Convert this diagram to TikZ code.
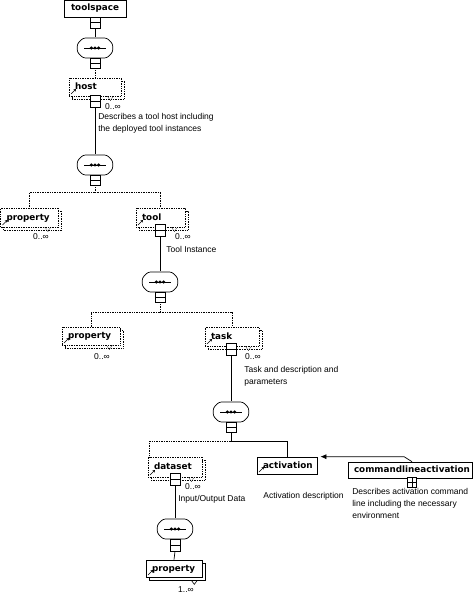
\documentclass[tikz,border=0pt]{standalone}
\usepackage{fontspec}
\setmainfont{Liberation Sans}
\newfontfamily\namefont{DejaVu Sans}
\usetikzlibrary{shadows,arrows.meta,calc}
\begin{document}
\begin{tikzpicture}[x=1pt,y=-1pt, line width=0.7pt,
  elem/.style={draw, fill=white, rectangle, inner xsep=6pt, inner ysep=0pt, align=left,
     font=\namefont\bfseries\fontsize{8.8}{10}\selectfont, text height=7pt, text depth=2pt},
  opt/.style={elem, densely dotted},
  refarrow/.style={path picture={\draw[solid, line width=0.6pt, -{Stealth[length=2.5pt,width=2.8pt]}] ([shift={(2,-2)}]path picture bounding box.south west) -- ++(5,-5);}},
  multi/.style={copy shadow={shadow xshift=3pt, shadow yshift=-3pt}},
  minusbox/.style={draw, fill=white, solid, rectangle, inner sep=0pt, minimum width=10pt, minimum height=11pt,
     path picture={\draw (path picture bounding box.west) -- (path picture bounding box.east);}},
  plusbox/.style={draw, fill=white, solid, rectangle, inner sep=0pt, minimum width=9pt, minimum height=10pt,
     path picture={\draw (path picture bounding box.west) -- (path picture bounding box.east);
                   \draw (path picture bounding box.north) -- (path picture bounding box.south);}},
  seqbox/.style={rectangle, inner sep=0pt, minimum width=37pt, minimum height=21pt,
     path picture={\begin{scope}[shift={(path picture bounding box.center)}]
        \draw[rounded corners=2.5pt, fill=white, line width=0.7pt] (-17.8,-4) -- (-12,-10) -- (12,-10) -- (17.8,-4) -- (17.8,4) -- (12,10) -- (-12,10) -- (-17.8,4) -- cycle;
        \draw[line width=0.6pt] (-11,0) -- (11,0);
        \fill (-3.6,0) circle (1.7pt) (0,0) circle (1.7pt) (3.6,0) circle (1.7pt);
     \end{scope}}},
  lbl/.style={inner sep=0pt, font=\fontsize{8.5}{10}\selectfont},
  desc/.style={inner sep=0pt, anchor=north west, align=left, font=\fontsize{8.5}{12}\selectfont},
  conn/.style={line width=0.7pt},
  dconn/.style={line width=0.7pt, densely dotted},
  notch/.style={line width=0.6pt, densely dotted}
]
\useasboundingbox (0,0) rectangle (474,594);

% ---- toolspace
\node[elem, text width=50pt, align=center, minimum height=17pt] (toolspace) at (95,8.5) {toolspace};
\node[minusbox] (m0) at (95,22.5) {};
\node[seqbox] (c1) at (95,48) {};
\node[minusbox, minimum height=10pt] (c1m) at (95,63) {};

% ---- host
\node[opt, refarrow, multi, text width=40pt, minimum height=18pt] (host) at (95,87) {host};
\node[minusbox, minimum height=12pt] (hm) at (95,101) {};
\node[lbl] (hostc) at (113,107) {0..∞};
\node[desc] (hostd) at (98,113) {Describes a tool host including\\the deployed tool instances};
\node[seqbox] (c2) at (95,165) {};
\node[minusbox, minimum height=10pt] (c2m) at (95,180) {};
\coordinate (j2) at (95,192);

% ---- property / tool
\node[opt, refarrow, multi, text width=46pt, minimum height=19pt] (prop1) at (29.5,217.5) {property};
\node[lbl] (prop1c) at (41,237) {0..∞};
\node[opt, refarrow, multi, text width=37pt, minimum height=19pt] (tool) at (160.5,217.5) {tool};
\node[minusbox, minimum height=12pt] (toolmb) at (160,230) {};
\node[lbl] (toolc) at (183,237) {0..∞};
\node[desc] (toold) at (166,245.5) {Tool Instance};
\node[seqbox] (c3) at (160,282) {};
\node[minusbox, minimum height=10pt] (c3m) at (160,297) {};
\coordinate (j3) at (160,312);

% ---- property / task
\node[opt, refarrow, multi, text width=46pt, minimum height=18pt] (prop2) at (91,336) {property};
\node[lbl] (prop2c) at (102,357) {0..∞};
\node[opt, refarrow, multi, text width=42pt, minimum height=19pt] (task) at (232,336.5) {task};
\node[minusbox, minimum height=12pt] (taskmb) at (231,349) {};
\node[lbl] (taskc) at (253,357) {0..∞};
\node[desc] (taskd) at (244,366) {Task and description and\\parameters};
\node[seqbox] (c4) at (231,412) {};
\node[minusbox, minimum height=10pt] (c4m) at (231,427) {};
\coordinate (j4) at (231,441);

% ---- dataset / activation
\node[opt, refarrow, multi, text width=42pt, minimum height=20pt] (dataset) at (175,467) {dataset};
\node[minusbox, minimum height=12pt] (datamb) at (175,479) {};
\node[lbl] (datac) at (193,487) {0..∞};
\node[desc] (datad) at (178,494.5) {Input/Output Data};
\node[elem, refarrow, text width=48pt, minimum height=17pt] (activation) at (287,465.5) {activation};
\node[desc] (actd) at (263,491.5) {Activation description};
\node[elem, text width=112pt, align=center, minimum height=16pt] (cla) at (410,470) {commandlineactivation};
\node[plusbox] (clap) at (412,482) {};
\node[desc] (clad) at (352,487.5) {Describes activation command\\line including the necessary\\environment};

% ---- bottom
\node[seqbox] (c5) at (175,529) {};
\node[minusbox, minimum height=12pt] (c5m) at (175,545) {};
\node[elem, refarrow, multi, text width=44pt, minimum height=17pt] (prop3) at (174,568.5) {property};
\node[lbl] (prop3c) at (186,590) {1..∞};

% ---- connectors
\draw[conn] (m0.south) -- (c1.north);
\draw[dconn] (c1m.south) -- (host.north);
\draw[conn] (hm.south) -- (c2.north);
\draw[dconn] (c2m.south) -- (j2);
\draw[dconn] (j2) -| (prop1.north);
\draw[dconn] (j2) -| (tool.north);
\draw[conn] (toolmb.south) -- (c3.north);
\draw[dconn] (c3m.south) -- (j3);
\draw[dconn] (j3) -| (prop2.north);
\draw[dconn] (j3) -| (task.north);
\draw[conn] (taskmb.south) -- (c4.north);
\draw[conn] (c4m.south) -- (j4);
\draw[dconn] (j4) -| ([xshift=2pt]dataset.north west);
\draw[conn] (j4) -| (activation.north);
\draw[conn] (datamb.south) -- (c5.north);
\draw[conn] (c5m.south) -- (prop3.north);
\draw[line width=0.7pt, -{Latex[length=6pt,width=5pt]}] ([xshift=2pt]cla.north) -- ([xshift=-6pt]cla.north |- activation.north) -- ([xshift=3pt]activation.north east);

% ---- multiplicity notches
\foreach \n in {host,prop1,tool,prop2,task,dataset}{
  \draw[notch] ($(\n.south east)+(-14,0)$) -- ++(3,4) -- ++(3,-4);
}
\draw[line width=0.6pt] ($(prop3.south east)+(-11,3)$) -- ++(3,4) -- ++(3,-4);
\end{tikzpicture}
\end{document}
